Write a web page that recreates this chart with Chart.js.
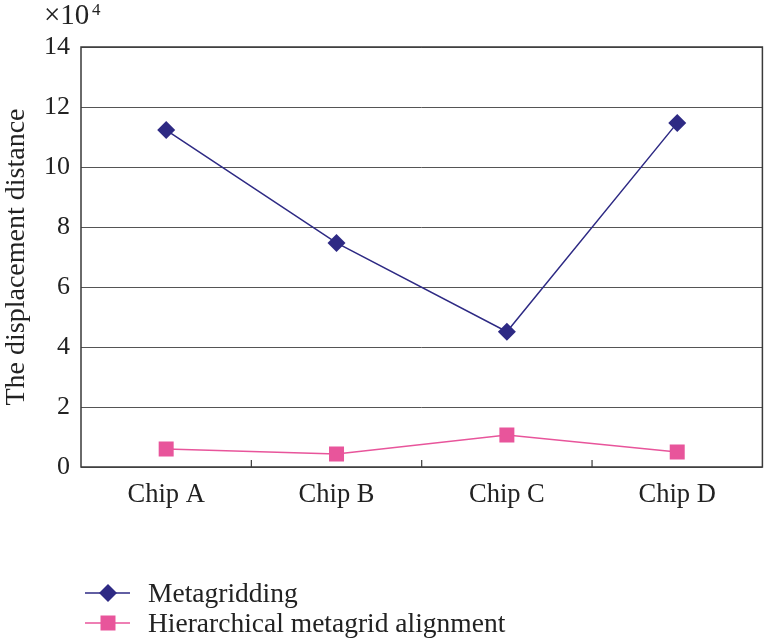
<!DOCTYPE html>
<html>
<head>
<meta charset="utf-8">
<script src="https://cdn.jsdelivr.net/npm/chart.js@4.4.1/dist/chart.umd.min.js"></script>
<style>
  html, body { margin: 0; padding: 0; background: #fff; }
  #chart { display: block; }
</style>
</head>
<body>
<canvas id="chart" width="773" height="640"></canvas>
<script>
var chips = ["Chip A", "Chip B", "Chip C", "Chip D"];
var metagridding = [11.23, 7.47, 4.51, 11.47];
var hierarchical = [0.6, 0.43, 1.07, 0.5];
var yTicks = [0, 2, 4, 6, 8, 10, 12, 14];

var FONT = "'Liberation Serif', 'DejaVu Serif', serif";
var NAVY = "#2e2a84";
var PINK = "#e8559b";

// box around plot, inner ticks on x axis, x10^4 label, legend
var decorations = {
    id: "decorations",
    afterDraw: function(chart){
        var ctx = chart.ctx;
        var area = chart.chartArea;
        var xs = chart.scales.x;
        ctx.save();
        ctx.strokeStyle = "#3a3a3a";
        ctx.lineWidth = 1.5;
        ctx.strokeRect(area.left, area.top, area.right - area.left, area.bottom - area.top);

        // ticks between categories, pointing up into the plot
        ctx.lineWidth = 1.2;
        for (var i = 0; i < chips.length - 1; i++){
            var bx = (xs.getPixelForValue(i) + xs.getPixelForValue(i + 1)) / 2;
            ctx.beginPath();
            ctx.moveTo(bx, area.bottom);
            ctx.lineTo(bx, area.bottom - 7);
            ctx.stroke();
        }

        ctx.fillStyle = "#222";
        ctx.textBaseline = "alphabetic";
        ctx.font = "29px " + FONT;
        ctx.fillText("\u00d710", 44, 24);
        ctx.font = "17px " + FONT;
        ctx.fillText("4", 92, 15);

        // legend
        var items = chart.data.datasets;
        items.forEach(function(ds, k){
            var y = 593 + k * 30;
            ctx.strokeStyle = ds.borderColor;
            ctx.lineWidth = 1.5;
            ctx.beginPath();
            ctx.moveTo(85, y);
            ctx.lineTo(130, y);
            ctx.stroke();
            ctx.fillStyle = ds.backgroundColor;
            ctx.beginPath();
            if (ds.pointStyle === "rectRot"){
                ctx.moveTo(108 - 9, y);
                ctx.lineTo(108, y - 9);
                ctx.lineTo(108 + 9, y);
                ctx.lineTo(108, y + 9);
                ctx.closePath();
            } else {
                ctx.rect(108 - 7.5, y - 7.5, 15, 15);
            }
            ctx.fill();
            ctx.fillStyle = "#222";
            ctx.font = "27.5px " + FONT;
            ctx.fillText(ds.label, 148, y + 9);
        });
        ctx.restore();
    }
};

new Chart(document.getElementById("chart"), {
    type: "line",
    data: {
        labels: chips,
        datasets: [{
            label: "Metagridding",
            data: metagridding,
            borderColor: NAVY,
            backgroundColor: NAVY,
            borderWidth: 1.5,
            pointStyle: "rectRot",
            pointRadius: 9,
            pointHoverRadius: 9,
            pointBorderWidth: 0,
            tension: 0
        }, {
            label: "Hierarchical metagrid alignment",
            data: hierarchical,
            borderColor: PINK,
            backgroundColor: PINK,
            borderWidth: 1.5,
            pointStyle: "rect",
            pointRadius: 10.6,
            pointHoverRadius: 10.6,
            pointBorderWidth: 0,
            tension: 0
        }]
    },
    options: {
        responsive: false,
        animation: false,
        layout: { padding: { top: 47, right: 6, left: 0, bottom: 0 } },
        plugins: {
            legend: { display: false },
            tooltip: { enabled: false }
        },
        scales: {
            x: {
                type: "category",
                offset: true,
                grid: { display: false, drawTicks: false },
                border: { display: false },
                ticks: {
                    color: "#222",
                    padding: 12,
                    maxRotation: 0,
                    font: { family: FONT, size: 26.5 }
                },
                afterFit: function(scale){ scale.height = 173; }
            },
            y: {
                min: 0,
                max: 14,
                afterBuildTicks: function(scale){
                    scale.ticks = yTicks.map(function(v){ return { value: v }; });
                },
                grid: { color: "#555", lineWidth: 1, drawTicks: false },
                border: { display: false },
                ticks: {
                    color: "#222",
                    padding: 11,
                    font: { family: FONT, size: 26 }
                },
                title: {
                    display: true,
                    text: "The displacement distance",
                    color: "#222",
                    padding: { top: 0, bottom: 0 },
                    font: { family: FONT, size: 28 }
                },
                afterFit: function(scale){ scale.width = 81; }
            }
        }
    },
    plugins: [decorations]
});
</script>
</body>
</html>
